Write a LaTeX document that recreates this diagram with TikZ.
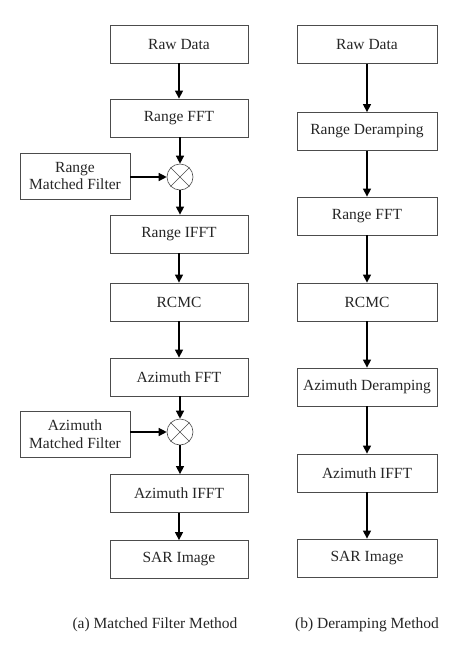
\documentclass[tikz,border=0pt]{standalone}
\usepackage{fontspec}
\setmainfont{Liberation Serif}
\usetikzlibrary{arrows.meta}
\begin{document}
\begin{tikzpicture}[x=1pt,y=-1pt,
  every node/.style={font=\fontsize{15.5}{17.5}\selectfont, text=black!85},
  lbox/.style={draw=black!70, line width=0.8pt, minimum width=138pt, minimum height=38pt, inner sep=0pt},
  rbox/.style={draw=black!70, line width=0.8pt, minimum width=140pt, minimum height=38pt, inner sep=0pt},
  fbox/.style={draw=black!70, line width=0.8pt, minimum width=110pt, minimum height=46pt, inner sep=0pt, align=center, font=\fontsize{15.5}{17.5}\selectfont},
  mult/.style={circle, draw=black!70, line width=0.6pt, minimum size=26pt, inner sep=0pt},
  flow/.style={-{Triangle[length=8pt,width=8pt]}, line width=1.3pt, black}
]
\useasboundingbox (0,0) rectangle (474,667);
% left column
\node[lbox] (l1) at (179,44) {Raw Data};
\node[lbox] (l2) at (179,118) {Range FFT};
\node[mult] (m1) at (180,177) {};
\node[fbox] (f1) at (75,176) {Range\\Matched Filter};
\node[lbox] (l3) at (179,234) {Range IFFT};
\node[lbox] (l4) at (179,302) {RCMC};
\node[lbox] (l5) at (179,377) {Azimuth FFT};
\node[mult] (m2) at (180,432) {};
\node[fbox] (f2) at (75,434) {Azimuth\\Matched Filter};
\node[lbox] (l6) at (179,493.5) {Azimuth IFFT};
\node[lbox] (l7) at (179,559.5) {SAR Image};
\foreach \m in {m1,m2}{
  \draw[black!70, line width=0.6pt] (\m.north east) -- (\m.south west) (\m.north west) -- (\m.south east);
}
\draw[flow] (l1) -- (l2);
\draw[flow] (l2.south -| m1) -- (m1.north);
\draw[flow] (f1.east |- m1) -- (m1.west);
\draw[flow] (m1.south) -- (l3.north -| m1);
\draw[flow] (l3) -- (l4);
\draw[flow] (l4) -- (l5);
\draw[flow] (l5.south -| m2) -- (m2.north);
\draw[flow] (f2.east |- m2) -- (m2.west);
\draw[flow] (m2.south) -- (l6.north -| m2);
\draw[flow] (l6) -- (l7);
% right column
\node[rbox] (r1) at (367,44.5) {Raw Data};
\node[rbox] (r2) at (367,131.5) {Range Deramping};
\node[rbox] (r3) at (367,216) {Range FFT};
\node[rbox] (r4) at (367,302) {RCMC};
\node[rbox] (r5) at (367,387) {Azimuth Deramping};
\node[rbox] (r6) at (367,473) {Azimuth IFFT};
\node[rbox] (r7) at (367,558) {SAR Image};
\draw[flow] (r1) -- (r2);
\draw[flow] (r2) -- (r3);
\draw[flow] (r3) -- (r4);
\draw[flow] (r4) -- (r5);
\draw[flow] (r5) -- (r6);
\draw[flow] (r6) -- (r7);
% captions
\node (ca) at (155,625) {(a) Matched Filter Method};
\node (cb) at (367,625) {(b) Deramping Method};
\end{tikzpicture}
\end{document}
